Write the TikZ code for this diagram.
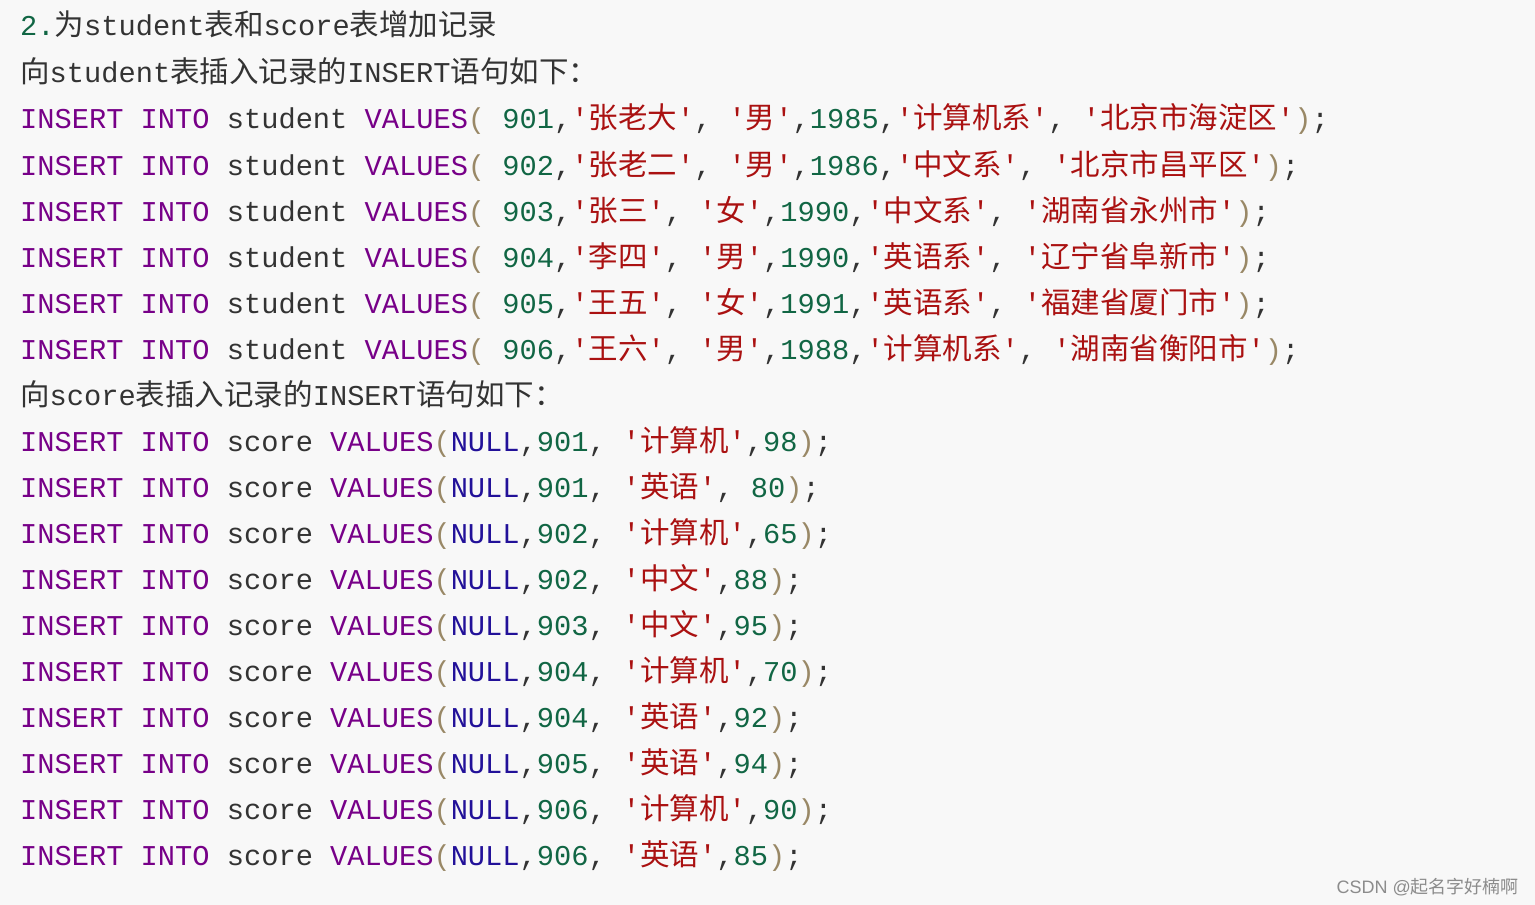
\documentclass[tikz,border=0pt]{standalone}
\usepackage{fontspec}
\setmonofont{Liberation Mono}
\newfontfamily\zhf{Noto Sans CJK SC}
\newfontfamily\wmf{Liberation Sans}
\definecolor{bg}{HTML}{F8F8F8}
\definecolor{kw}{HTML}{770088}
\definecolor{nm}{HTML}{116644}
\definecolor{st}{HTML}{AA1111}
\definecolor{nl}{HTML}{221199}
\definecolor{pa}{HTML}{998866}
\definecolor{tx}{HTML}{333333}
\newcommand\zh[1]{{\zhf\fontsize{29.5}{30}\selectfont #1}}
\newcommand\KW[1]{\textcolor{kw}{#1}}
\newcommand\NM[1]{\textcolor{nm}{#1}}
\newcommand\SQ[1]{\textcolor{st}{'\zh{#1}'}}
\newcommand\PO{\textcolor{pa}{(}}
\newcommand\PC{\textcolor{pa}{)}}
\newcommand\stu[6]{\KW{INSERT INTO} student \KW{VALUES}\PO{} \NM{#1},\SQ{#2}, \SQ{#3},\NM{#4},\SQ{#5}, \SQ{#6}\PC;}
\newcommand\sco[3]{\KW{INSERT INTO} score \KW{VALUES}\PO\textcolor{nl}{NULL},\NM{#1}, \SQ{#2},\NM{#3}\PC;}
\begin{document}
\begin{tikzpicture}[x=1pt,y=-1pt,
  ln/.style={anchor=base west,inner sep=0pt,text=tx,font=\ttfamily\fontsize{28.7}{30}\selectfont}]
\fill[bg] (0,0) rectangle (1535,905);
\useasboundingbox (0,0) rectangle (1535,905);
\node[ln] (h1) at (20,35) {\NM{2.}\zh{为}student\zh{表和}score\zh{表增加记录}};
\node[ln] (h2) at (20,82) {\zh{向}student\zh{表插入记录的}INSERT\zh{语句如下：}};
\node[ln] (s1) at (20,128) {\stu{901}{张老大}{男}{1985}{计算机系}{北京市海淀区}};
\node[ln] (s2) at (20,175) {\stu{902}{张老二}{男}{1986}{中文系}{北京市昌平区}};
\node[ln] (s3) at (20,221) {\stu{903}{张三}{女}{1990}{中文系}{湖南省永州市}};
\node[ln] (s4) at (20,267) {\stu{904}{李四}{男}{1990}{英语系}{辽宁省阜新市}};
\node[ln] (s5) at (20,313) {\stu{905}{王五}{女}{1991}{英语系}{福建省厦门市}};
\node[ln] (s6) at (20,359) {\stu{906}{王六}{男}{1988}{计算机系}{湖南省衡阳市}};
\node[ln] (h3) at (20,405) {\zh{向}score\zh{表插入记录的}INSERT\zh{语句如下：}};
\node[ln] (c1) at (20,451) {\sco{901}{计算机}{98}};
\node[ln] (c2) at (20,497) {\KW{INSERT INTO} score \KW{VALUES}\PO\textcolor{nl}{NULL},\NM{901}, \SQ{英语}, \NM{80}\PC;};
\node[ln] (c3) at (20,543) {\sco{902}{计算机}{65}};
\node[ln] (c4) at (20,589) {\sco{902}{中文}{88}};
\node[ln] (c5) at (20,635) {\sco{903}{中文}{95}};
\node[ln] (c6) at (20,681) {\sco{904}{计算机}{70}};
\node[ln] (c7) at (20,727) {\sco{904}{英语}{92}};
\node[ln] (c8) at (20,773) {\sco{905}{英语}{94}};
\node[ln] (c9) at (20,819) {\sco{906}{计算机}{90}};
\node[ln] (c10) at (20,865) {\sco{906}{英语}{85}};
\node[anchor=base east,inner sep=0pt,text=black!45,font=\wmf\fontsize{18}{20}\selectfont] (wm) at (1519,893) {CSDN @\zhf 起名字好楠啊};
\end{tikzpicture}
\end{document}
